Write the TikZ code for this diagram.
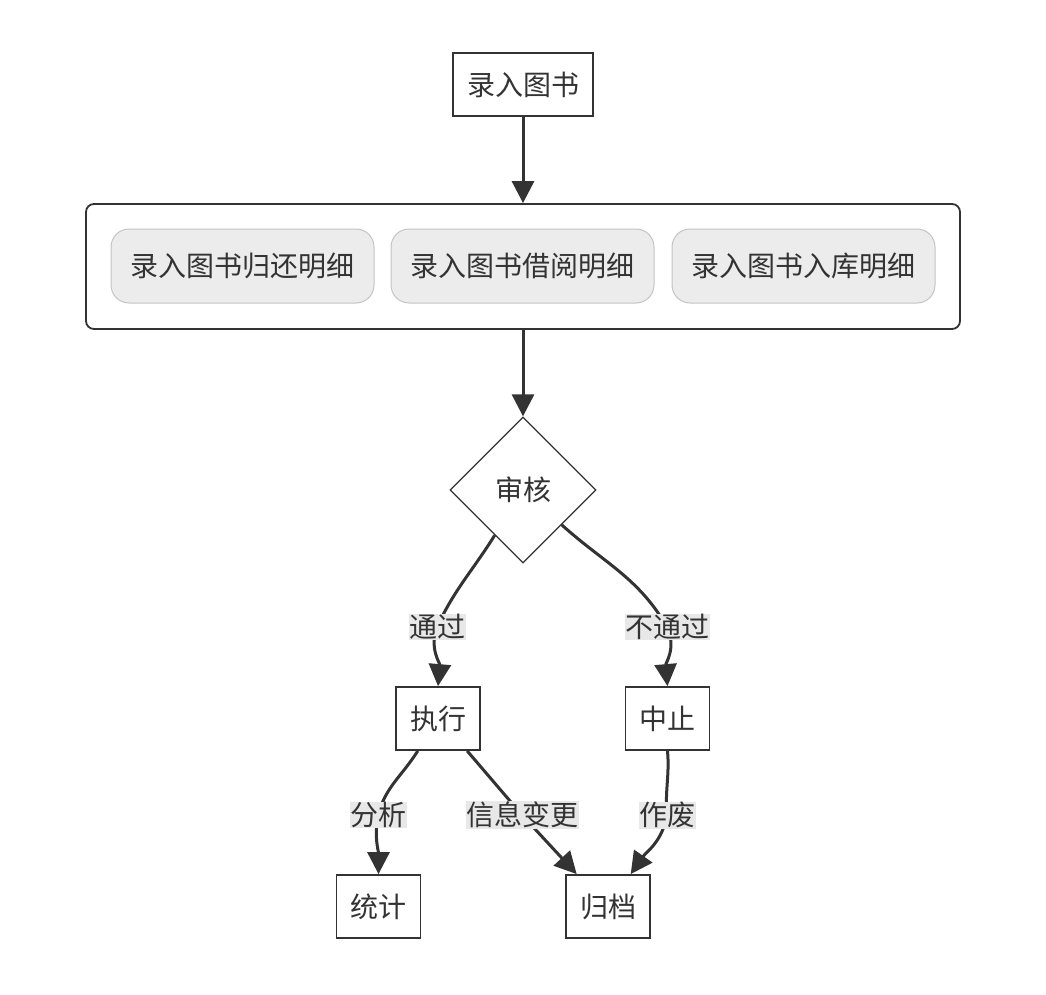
\documentclass[tikz,border=0pt]{standalone}
\usepackage{fontspec}
\setmainfont{Noto Sans CJK SC}
\usepackage{xcolor}
\usepackage{tikz}
\usetikzlibrary{arrows.meta, positioning, shapes.geometric}
\definecolor{ink}{HTML}{333333}
\definecolor{lblBg}{HTML}{E8E8E8}
\definecolor{subFill}{HTML}{ECECEC}
\definecolor{subLine}{HTML}{C4C4C4}

\begin{document}
\begin{tikzpicture}[
  x=1pt, y=-1pt,
  every node/.style={font=\fontsize{28}{33}\selectfont, text=ink},
  box/.style={
    rectangle, draw=ink, line width=1.8pt, fill=white,
    minimum height=63pt, minimum width=82pt, inner xsep=14pt
  },
  grpbox/.style={rectangle, rounded corners=8pt, draw=ink, line width=1.8pt,
    minimum width=874pt, minimum height=125pt},
  subbox/.style={rectangle, rounded corners=18pt, draw=subLine, fill=subFill,
    line width=1pt, minimum width=263pt, minimum height=74pt},
  check/.style={diamond, draw=ink, line width=1.3pt, fill=white,
    minimum size=146pt, inner sep=0pt},
  flow/.style={draw=ink, line width=3pt, -{Triangle[length=22pt, width=22pt]}},
  elab/.style={fill=lblBg, inner xsep=0.5pt, inner ysep=0.5pt}
]
\useasboundingbox (0,0) rectangle (1046,995);

% top step and detail group
\node[box] (lr) at (523,84.5) {录入图书};
\node[grpbox] (grp) at (523,266.5) {};
\node[subbox] (mx1) at (242.5,266) {录入图书归还明细};
\node[subbox] (mx2) at (522.5,266) {录入图书借阅明细};
\node[subbox] (mx3) at (803.5,266) {录入图书入库明细};

% check and outcomes
\node[check] (sh) at (523,490) {审核};
\node[box] (zx) at (438,718.5) {执行};
\node[box] (zz) at (667.5,718.5) {中止};
\node[box] (tj) at (378.5,906.5) {统计};
\node[box] (gd) at (608,906.5) {归档};

% label points
\coordinate (m1) at (437,627);
\coordinate (m2) at (667,627);
\coordinate (m3) at (378,815);
\coordinate (m4) at (522,815);
\coordinate (m5) at (667,815);

% connectors
\draw[flow] (lr) -- (grp);
\draw[flow] (grp) -- (sh);
\draw[flow] (sh.-122) to[out=-122, in=65] (m1) node[elab] {通过}
  to[out=-110, in=85] (zx.north);
\draw[flow] (sh.-42) to[out=-42, in=120] (m2) node[elab] {不通过}
  to[out=-65, in=95] (zz.north);
\draw[flow] (zx.-122) to[out=-122, in=75] (m3) node[elab] {分析}
  to[out=-100, in=90] (tj.north);
\draw[flow] (zx.-48) -- (m4) node[elab] {信息变更} -- (gd.134);
\draw[flow] (zz.south) to[out=-85, in=95] (m5) node[elab] {作废}
  to[out=-100, in=55] (gd.55);
\end{tikzpicture}
\end{document}
